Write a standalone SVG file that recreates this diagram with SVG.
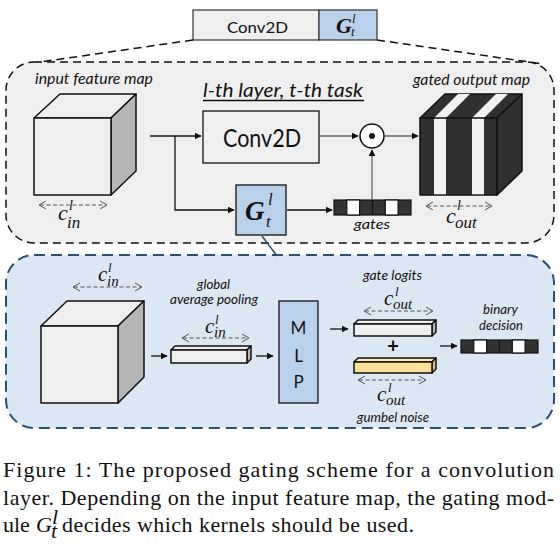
<svg xmlns="http://www.w3.org/2000/svg" width="560" height="549" viewBox="0 0 560 549">
<defs>
<style>
.lab{font-family:Lato,"Liberation Sans",sans-serif;font-style:italic;fill:#111}
.sans{font-family:Lato,"Liberation Sans",sans-serif;fill:#111}
.m{font-family:"Liberation Serif","DejaVu Serif",serif;font-style:italic;fill:#111}
.cap{font-family:"Liberation Serif","Times New Roman",serif;font-size:22px;fill:#111}
.ln{stroke:#111;stroke-width:1.3;fill:none}
.gl{stroke:#666;stroke-width:1.3;fill:none}
.dd{stroke:#555;stroke-width:1;stroke-dasharray:4 2.5;fill:none}
.ch{stroke:#555;stroke-width:1;fill:none}
.face{stroke:#111;stroke-width:1.5;stroke-linejoin:round}
</style>
<marker id="ah" viewBox="0 0 10 10" refX="9" refY="5" markerWidth="7" markerHeight="7" markerUnits="userSpaceOnUse" orient="auto">
<path d="M0,0 L10,5 L0,10 z" fill="#111"/>
</marker>
</defs>
<rect width="560" height="549" fill="#fff"/>

<g id="top-layer-box">
<rect x="193" y="10" width="126" height="30" fill="#efefef" stroke="#333" stroke-width="1.2"/>
<rect x="319" y="10" width="58" height="30" fill="#b9d1ea" stroke="#333" stroke-width="1.2"/>
<text class="sans" x="227" y="33" font-size="16" textLength="61" lengthAdjust="spacingAndGlyphs">Conv2D</text>
<text class="m" x="336" y="33" font-size="22" font-weight="bold">G</text>
<text class="m" x="352" y="23" font-size="13">l</text>
<text class="m" x="351" y="36" font-size="13">t</text>
</g>

<g id="zoom-lines">
<line x1="193" y1="40" x2="33" y2="63" stroke="#111" stroke-width="1.5" stroke-dasharray="8 5"/>
<line x1="377" y1="40" x2="543" y2="64" stroke="#111" stroke-width="1.5" stroke-dasharray="8 5"/>
</g>

<g id="layer-panel">
<rect x="6" y="62" width="548" height="181" rx="28" fill="#efefef" stroke="#111" stroke-width="1.5" stroke-dasharray="8 5"/>
<text class="lab" x="203" y="97" font-size="19" textLength="160" lengthAdjust="spacingAndGlyphs">l-th layer, t-th task</text>
<line x1="203" y1="100.5" x2="364" y2="100.5" stroke="#111" stroke-width="1.3"/>
</g>

<g id="gating-panel">
<rect x="6" y="255" width="548" height="173" rx="28" fill="#dce7f4" stroke="#2b4f77" stroke-width="2" stroke-dasharray="11 6"/>
</g>

<g id="input-feature-map">
<text class="lab" x="35" y="84" font-size="15" textLength="118" lengthAdjust="spacingAndGlyphs">input feature map</text>
<polygon class="face" points="34,118 60,94 136,94 111,118" fill="#efefef"/>
<polygon class="face" points="111,118 136,94 136,171 111,195" fill="#b5b5b5"/>
<rect class="face" x="34" y="118" width="77" height="77" fill="#efefef"/>
<line class="dd" x1="40" y1="205" x2="106" y2="205"/>
<polyline class="ch" points="46,201 39,205 46,209"/>
<polyline class="ch" points="100,201 107,205 100,209"/>
<text class="m" x="58" y="220" font-size="22">c</text>
<text class="m" x="69" y="210" font-size="14">l</text>
<text class="m" x="67" y="228" font-size="17">in</text>
</g>

<g id="conv2d">
<rect x="203" y="111" width="116" height="52" fill="#efefef" stroke="#111" stroke-width="1.3"/>
<text class="sans" x="223" y="147" font-size="25" textLength="78" lengthAdjust="spacingAndGlyphs">Conv2D</text>
</g>

<g id="gate-module">
<rect x="236" y="185" width="50" height="50" fill="#b9d1ea" stroke="#111" stroke-width="1.3"/>
<text class="m" x="245" y="220" font-size="27" font-weight="bold">G</text>
<text class="m" x="268" y="205" font-size="17">l</text>
<text class="m" x="266" y="227" font-size="17">t</text>
</g>

<g id="multiply">
<circle cx="372" cy="136" r="12" fill="#fff" stroke="#111" stroke-width="1.5"/>
<circle cx="372" cy="136" r="3" fill="#111"/>
</g>

<g id="gates">
<rect x="334" y="200" width="77" height="15" fill="#333" stroke="#111" stroke-width="1.2"/>
<rect x="346.8" y="200" width="12.8" height="15" fill="#fff" stroke="#111" stroke-width="1.2"/>
<rect x="385.3" y="200" width="12.8" height="15" fill="#fff" stroke="#111" stroke-width="1.2"/>
<line x1="372.5" y1="200" x2="372.5" y2="215" stroke="#111" stroke-width="1.2"/>
<text class="lab" x="354" y="229" font-size="14" textLength="36" lengthAdjust="spacingAndGlyphs">gates</text>
</g>

<g id="gated-output-map">
<text class="lab" x="413" y="85" font-size="15" textLength="117" lengthAdjust="spacingAndGlyphs">gated output map</text>
<polygon class="face" points="420,118 445,94 522,94 497,118" fill="#303030"/>
<polygon points="434,118 458,94 470,94 446,118" fill="#f2f2f2"/>
<polygon points="472,118 496,94 508,94 484,118" fill="#f2f2f2"/>
<polygon class="face" points="497,118 522,94 522,171 497,195" fill="#303030"/>
<rect class="face" x="420" y="118" width="77" height="77" fill="#303030"/>
<rect x="434" y="118.8" width="12" height="75.5" fill="#f2f2f2"/>
<rect x="472" y="118.8" width="12" height="75.5" fill="#f2f2f2"/>
<line class="dd" x1="427" y1="206" x2="491" y2="206"/>
<polyline class="ch" points="433,202 426,206 433,210"/>
<polyline class="ch" points="485,202 492,206 485,210"/>
<text class="m" x="446" y="223" font-size="22">c</text>
<text class="m" x="457" y="210" font-size="14">l</text>
<text class="m" x="455" y="228" font-size="17">out</text>
</g>

<g id="gp-input-map">
<line class="dd" x1="74" y1="287" x2="141" y2="287"/>
<polyline class="ch" points="80,283 73,287 80,291"/>
<polyline class="ch" points="135,283 142,287 135,291"/>
<text class="m" x="98" y="281" font-size="21">c</text>
<text class="m" x="108" y="272" font-size="13">l</text>
<text class="m" x="107" y="286" font-size="15">in</text>
<polygon class="face" points="41,326 67,301 144,301 118,326" fill="#efefef"/>
<polygon class="face" points="118,326 144,301 144,377 118,403" fill="#b5b5b5"/>
<rect class="face" x="41" y="326" width="77" height="77" fill="#efefef"/>
</g>

<g id="global-average-pooling">
<text class="lab" x="197" y="289" font-size="13" textLength="33" lengthAdjust="spacingAndGlyphs">global</text>
<text class="lab" x="170" y="304" font-size="13" textLength="88" lengthAdjust="spacingAndGlyphs">average pooling</text>
<line class="dd" x1="183" y1="338" x2="248" y2="338"/>
<polyline class="ch" points="189,334 182,338 189,342"/>
<polyline class="ch" points="242,334 249,338 242,342"/>
<text class="m" x="205" y="333" font-size="21">c</text>
<text class="m" x="215" y="324" font-size="13">l</text>
<text class="m" x="214" y="337" font-size="15">in</text>
<polygon class="face" points="171,350 175,346 251,346 247,350" fill="#efefef" stroke-width="1.3"/>
<polygon class="face" points="247,350 251,346 251,359 247,363" fill="#b5b5b5" stroke-width="1.3"/>
<rect class="face" x="171" y="350" width="76" height="13" fill="#efefef" stroke-width="1.3"/>
</g>

<g id="mlp">
<rect x="279" y="301" width="39" height="102" fill="#b9d1ea" stroke="#111" stroke-width="1.3"/>
<text class="sans" x="298.5" y="334" font-size="17" text-anchor="middle">M</text>
<text class="sans" x="298.5" y="362" font-size="17" text-anchor="middle">L</text>
<text class="sans" x="298.5" y="388" font-size="17" text-anchor="middle">P</text>
</g>

<g id="gate-logits">
<text class="lab" x="363" y="280" font-size="13" textLength="59" lengthAdjust="spacingAndGlyphs">gate logits</text>
<line class="dd" x1="365" y1="311" x2="432" y2="311"/>
<polyline class="ch" points="371,307 364,311 371,315"/>
<polyline class="ch" points="426,307 433,311 426,315"/>
<text class="m" x="384" y="305" font-size="21">c</text>
<text class="m" x="395" y="296" font-size="13">l</text>
<text class="m" x="393" y="309" font-size="15">out</text>
<polygon class="face" points="354,324 358,320 436,320 432,324" fill="#efefef" stroke-width="1.3"/>
<polygon class="face" points="432,324 436,320 436,332 432,336" fill="#b5b5b5" stroke-width="1.3"/>
<rect class="face" x="354" y="324" width="78" height="12" fill="#efefef" stroke-width="1.3"/>
<text class="sans" x="393" y="353" font-size="20" font-weight="bold" text-anchor="middle">+</text>
</g>

<g id="gumbel-noise">
<polygon class="face" points="354,362 358,358 436,358 432,362" fill="#fde9ae" stroke-width="1.3"/>
<polygon class="face" points="432,362 436,358 436,369 432,373" fill="#e2bd62" stroke-width="1.3"/>
<rect class="face" x="354" y="362" width="78" height="11" fill="#fbe09a" stroke-width="1.3"/>
<line class="dd" x1="359" y1="380" x2="425" y2="380"/>
<polyline class="ch" points="365,376 358,380 365,384"/>
<polyline class="ch" points="419,376 426,380 419,384"/>
<text class="m" x="377" y="401" font-size="21">c</text>
<text class="m" x="388" y="392" font-size="13">l</text>
<text class="m" x="386" y="405" font-size="15">out</text>
<text class="lab" x="357" y="422" font-size="13" textLength="72" lengthAdjust="spacingAndGlyphs">gumbel noise</text>
</g>

<g id="binary-decision">
<text class="lab" x="483" y="314" font-size="13" textLength="35" lengthAdjust="spacingAndGlyphs">binary</text>
<text class="lab" x="479" y="330" font-size="13" textLength="44" lengthAdjust="spacingAndGlyphs">decision</text>
<rect x="461" y="340" width="77" height="13" fill="#333" stroke="#111" stroke-width="1.2"/>
<rect x="473.8" y="340" width="12.8" height="13" fill="#fff" stroke="#111" stroke-width="1.2"/>
<rect x="512.3" y="340" width="12.8" height="13" fill="#fff" stroke="#111" stroke-width="1.2"/>
<line x1="499.5" y1="340" x2="499.5" y2="353" stroke="#111" stroke-width="1.2"/>
</g>

<g id="connectors">
<line class="ln" x1="150" y1="136" x2="201" y2="136" marker-end="url(#ah)"/>
<polyline class="ln" points="175,136 175,210 234,210" marker-end="url(#ah)"/>
<line class="gl" x1="320" y1="136" x2="358" y2="136" marker-end="url(#ah)"/>
<line class="gl" x1="385" y1="136" x2="418" y2="136" marker-end="url(#ah)"/>
<line class="ln" x1="287" y1="210" x2="332" y2="210" marker-end="url(#ah)"/>
<line class="gl" x1="372" y1="199" x2="372" y2="150" marker-end="url(#ah)"/>
<line x1="262" y1="236" x2="277" y2="256" stroke="#2b4f77" stroke-width="1.5"/>
<line class="ln" x1="151" y1="356" x2="167" y2="356" marker-end="url(#ah)"/>
<line class="ln" x1="256" y1="356" x2="273" y2="356" marker-end="url(#ah)"/>
<line class="ln" x1="330" y1="329" x2="348" y2="329" marker-end="url(#ah)"/>
<line class="ln" x1="440" y1="346" x2="457" y2="346" marker-end="url(#ah)"/>
</g>

<g id="caption">
<text class="cap" x="3" y="477" textLength="551" lengthAdjust="spacing">Figure 1: The proposed gating scheme for a convolution</text>
<text class="cap" x="3" y="505" textLength="551" lengthAdjust="spacing">layer. Depending on the input feature map, the gating mod-</text>
<text class="cap" x="3" y="532">ule</text>
<text class="cap" x="36" y="532" font-style="italic">G</text>
<text class="cap" x="52" y="524" font-style="italic" font-size="14">l</text>
<text class="cap" x="51" y="538" font-style="italic" font-size="14">t</text>
<text class="cap" x="62" y="532" textLength="352" lengthAdjust="spacing">decides which kernels should be used.</text>
</g>
</svg>
